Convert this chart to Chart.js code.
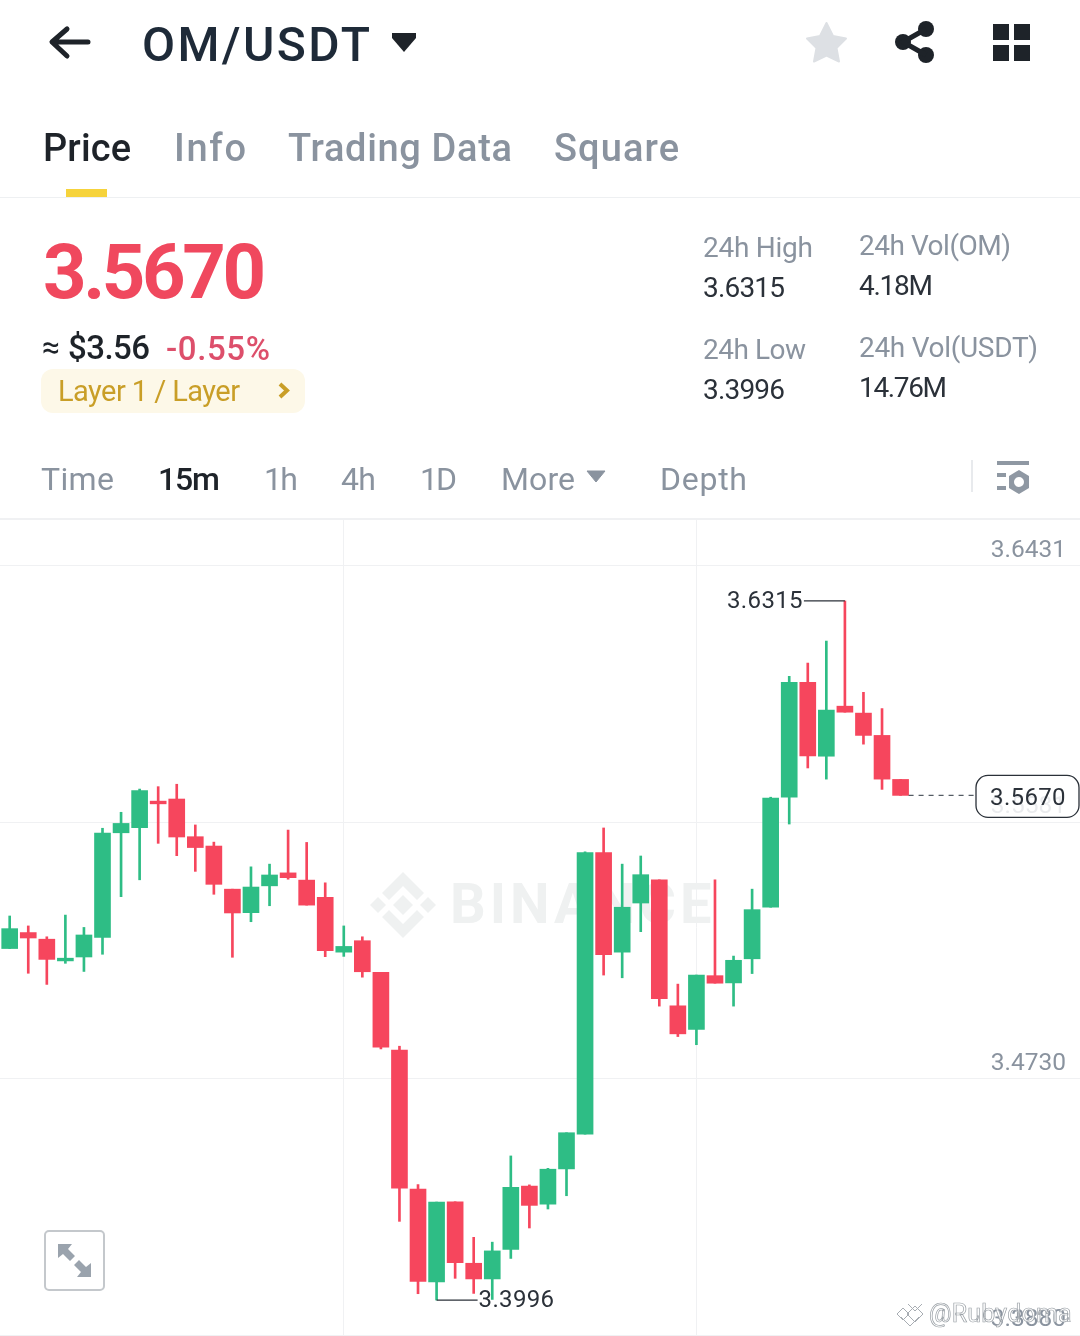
<!DOCTYPE html>
<html>
<head>
<meta charset="utf-8">
<style>
html,body{margin:0;padding:0;background:#fff;width:1080px;height:1336px;overflow:hidden;font-family:Roboto,sans-serif}
#chartBox{position:absolute;left:0;top:519px;width:1080px;height:817px}
.t{position:absolute;white-space:nowrap;line-height:1;transform:translateY(-50%)}
svg.i{position:absolute;left:0;top:0}
</style>
<script src="https://cdn.jsdelivr.net/npm/chart.js@4/dist/chart.umd.js"></script>
</head>
<body>
<div id="chartBox"><canvas id="c" width="1080" height="817"></canvas></div>

<svg class="i" width="1080" height="1336" viewBox="0 0 1080 1336">
  <path d="M88 42H54M67 29L52 42L67 56" fill="none" stroke="#1e2329" stroke-width="5" stroke-linecap="round" stroke-linejoin="round"/>
  <path d="M392 33H416V38L404 52L392 38Z" fill="#1e2329"/>
  <path d="M826.5 23L833 36L846 38.500L836.500 48L839 61.500L826.500 55.500L814 61.500L816.500 48L807 38.500L820 36Z" fill="#dde0e4" stroke="#dde0e4" stroke-width="2" stroke-linejoin="round"/>
  <g fill="#1e2329"><circle cx="926" cy="29" r="8"/><circle cx="903" cy="42" r="8"/><circle cx="926" cy="55" r="8"/></g>
  <path d="M926 29L903 42L926 55" fill="none" stroke="#1e2329" stroke-width="5"/>
  <g fill="#1e2329"><rect x="993" y="24" width="16" height="16"/><rect x="1014" y="24" width="16" height="16"/><rect x="993" y="45" width="16" height="16"/><rect x="1014" y="45" width="16" height="16"/></g>
  <rect x="0" y="197" width="1080" height="1" fill="#eef0f2"/>
  <rect x="66" y="189" width="41" height="8" fill="#f6d33c"/>
  <rect x="41" y="369" width="264" height="44" rx="12" fill="#fdf8e8"/>
  <path d="M280 384L287 390.500L280 397" fill="none" stroke="#c99e27" stroke-width="4"/>
  <path d="M587 471H605L596 482Z" fill="#8a939f" stroke="#8a939f" stroke-width="1" stroke-linejoin="round"/>
  <rect x="971" y="460" width="2" height="32" fill="#e8eaed"/>
  <g fill="#8f98a3">
    <rect x="997" y="461" width="32" height="4"/><rect x="997" y="473" width="9" height="4"/><rect x="997" y="486" width="9" height="4"/>
    <path fill-rule="evenodd" d="M1019 470L1029 476V488L1019 494L1009 488V476ZM1019 477A5 5 0 1 0 1019 487A5 5 0 1 0 1019 477Z"/>
  </g>
  <rect x="0" y="518" width="1080" height="2" fill="#f0f1f3"/>
  <rect x="45" y="1231" width="59" height="59" rx="4" fill="#fff" fill-opacity="0.9" stroke="#c4c8cc" stroke-width="2"/>
  <g fill="#9aa3ad">
    <path d="M58 1244H72L68 1249L75 1256L70 1261L63 1254L58 1258Z"/>
    <path d="M91 1277H77L81 1272L74 1265L79 1260L86 1267L91 1263Z"/>
  </g>
  <g fill="none" stroke="#a8adb3" stroke-width="1">
    <path d="M909 1304L916 1311L923 1304M898 1314L904 1308L910 1314L904 1320ZM908 1314L916 1306L924 1314L916 1322Z" transform="translate(-1,0)"/>
    <path d="M901 1317L910 1326L919 1317" />
  </g>
</svg>

<div id="ui"></div>

<script>
const candleIndex = Array.from({length:49},(_,i)=>i);
const opens = [3.5162,3.5215,3.5193,3.5121,3.5134,3.5199,3.5546,3.5563,3.5651,3.5658,3.5533,3.5502,3.5359,3.5281,3.5370,3.5413,3.5389,3.5332,3.5150,3.5188,3.5083,3.4825,3.4364,3.4056,3.4322,3.4118,3.4066,3.4164,3.4374,3.4314,3.4431,3.4546,3.5480,3.5150,3.5313,3.5390,3.4972,3.4894,3.5072,3.5048,3.5128,3.5299,3.5664,3.6045,3.5800,3.5966,3.5943,3.5869,3.5723];
const highs = [3.5270,3.5237,3.5201,3.5273,3.5232,3.5561,3.5614,3.5691,3.5699,3.5707,3.5572,3.5515,3.5359,3.5433,3.5442,3.5555,3.5514,3.5380,3.5237,3.5201,3.5083,3.4838,3.4379,3.4321,3.4322,3.4204,3.4188,3.4474,3.4378,3.4433,3.4551,3.5483,3.5562,3.5442,3.5469,3.5390,3.5044,3.5074,3.5390,3.5137,3.5359,3.5664,3.6065,3.6109,3.6182,3.6315,3.6012,3.5958,3.5723];
const lows = [3.5162,3.5080,3.5043,3.5113,3.5086,3.5143,3.5334,3.5390,3.5511,3.5470,3.5418,3.5342,3.5133,3.5251,3.5304,3.5392,3.5306,3.5135,3.5136,3.5067,3.4829,3.4257,3.4017,3.3996,3.4068,3.4018,3.3998,3.4134,3.4235,3.4298,3.4342,3.4546,3.5074,3.5065,3.5218,3.4971,3.4870,3.4843,3.5047,3.4971,3.5079,3.5299,3.5575,3.5761,3.5724,3.5946,3.5840,3.5690,3.5670];
const closes = [3.5228,3.5197,3.5126,3.5130,3.5207,3.5545,3.5577,3.5686,3.5642,3.5532,3.5497,3.5375,3.5280,3.5366,3.5406,3.5397,3.5306,3.5155,3.5169,3.5085,3.4835,3.4367,3.4058,3.4321,3.4120,3.4066,3.4159,3.4370,3.4310,3.4430,3.4551,3.5480,3.5142,3.5299,3.5407,3.4996,3.4879,3.5074,3.5047,3.5123,3.5291,3.5661,3.6045,3.5801,3.5953,3.5946,3.5869,3.5724,3.5670];
const priceTicks = [3.6431,3.5581,3.4730,3.3880];
const gridCandles = [18,37];
const dayHigh = 3.6315, dayLow = 3.3996, lastPrice = 3.5670;

const UP = '#2ebd85', DOWN = '#f6465d';
const candleColors = closes.map((c,i)=> c>=opens[i] ? UP : DOWN);

const INK='#1e2329', GREY='#8a939f';
const uiText = [
 ['OM/USDT',142,228,45,48,'#1e2a38',500],
 ['Price',43,88,148,38,INK,500],
 ['Info',174,72,148,38,GREY,500],
 ['Trading Data',288,224,148,38,GREY,500],
 ['Square',554,125,148,38,GREY,500],
 ['3.5670',43,223,272,76,'#f0485e',700],
 ['≈',42,18,347,32,INK,400],
 ['$3.56',68,82,347,33,INK,500],
 ['-0.55%',166,104,348,33,'#dd4f6b',500],
 ['Layer 1 / Layer',58,182,391,29,'#c99e27',400],
 ['24h High',703,110,248,28,GREY,400],
 ['3.6315',703,82,288,28,'#2b3139',400],
 ['24h Vol(OM)',859,152,246,28,GREY,400],
 ['4.18M',859,74,286,28,'#2b3139',400],
 ['24h Low',703,103,350,28,GREY,400],
 ['3.3996',703,82,390,28,'#2b3139',400],
 ['24h Vol(USDT)',859,179,348,28,GREY,400],
 ['14.76M',859,88,388,28,'#2b3139',400],
 ['Time',41,73,479,32,GREY,400],
 ['15m',158,62,479,32,INK,500],
 ['1h',264,34,479,32,GREY,400],
 ['4h',341,35,479,32,GREY,400],
 ['1D',420,37,479,32,GREY,400],
 ['More',501,74,479,32,GREY,400],
 ['Depth',660,87,479,32,GREY,400]
];
const ui=document.getElementById('ui');
const mc=document.createElement('canvas').getContext('2d');
uiText.forEach(([s,x,w,cy,size,col,wt])=>{
  const e=document.createElement('div');
  e.className='t';e.textContent=s;
  mc.font=wt+' '+size+'px Roboto';
  const ls=(w-mc.measureText(s).width)/Math.max(1,s.length-1);
  e.style.cssText='left:'+x+'px;top:'+cy+'px;font-size:'+size+'px;color:'+col+';font-weight:'+wt+';letter-spacing:'+ls.toFixed(2)+'px';
  ui.appendChild(e);
});
const wm=document.createElement('div');
wm.className='t';wm.textContent='@Rubydoma';
wm.style.cssText='left:929px;top:1313px;font-size:25px;color:rgba(255,255,255,.75);-webkit-text-stroke:0.7px #9aa0a6;letter-spacing:.2px';
ui.appendChild(wm);

const watermark={id:'watermark',beforeDatasetsDraw(ch){
  const g=ch.ctx;g.save();g.fillStyle='#eff1f1';
  const cx=403,cy=386;
  const diamond=(x,y,r)=>{g.beginPath();g.moveTo(x,y-r);g.lineTo(x+r,y);g.lineTo(x,y+r);g.lineTo(x,y+r);g.lineTo(x-r,y);g.closePath();g.fill();};
  diamond(cx,cy,10);diamond(cx-25,cy,8);diamond(cx+25,cy,8);
  [1,-1].forEach(s=>{g.beginPath();
    [[0,-33],[21,-12],[14,-5],[0,-19],[-14,-5],[-21,-12]].forEach(([a,b],i)=>{const X=cx+a,Y=cy+b*s;i?g.lineTo(X,Y):g.moveTo(X,Y);});
    g.closePath();g.fill();});
  g.font='700 56px Roboto';g.letterSpacing='4px';g.textBaseline='middle';g.textAlign='left';
  g.fillText('BINANCE',450,390);
  g.restore();
}};

const marks={id:'marks',afterDatasetsDraw(ch){
  const g=ch.ctx,xs=ch.scales.x,ys=ch.scales.y;
  g.save();
  g.font='24px Roboto';g.letterSpacing='0.35px';g.textBaseline='middle';g.fillStyle='#2b3139';g.strokeStyle='#2b3139';g.lineWidth=1.2;
  const hi=highs.indexOf(dayHigh),lo=lows.indexOf(dayLow);
  const hx=xs.getPixelForValue(hi),hy=ys.getPixelForValue(dayHigh);
  g.beginPath();g.moveTo(hx,hy);g.lineTo(hx-41,hy);g.stroke();
  g.textAlign='right';g.fillText(dayHigh.toFixed(4),hx-42,hy+1);
  const lx=xs.getPixelForValue(lo),ly=ys.getPixelForValue(dayLow);
  g.beginPath();g.moveTo(lx,ly);g.lineTo(lx+41,ly);g.stroke();
  g.textAlign='left';g.fillText(dayLow.toFixed(4),lx+42,ly+1);
  const px=xs.getPixelForValue(48)+8,py=ys.getPixelForValue(lastPrice);
  g.setLineDash([5,5]);g.strokeStyle='#555c64';g.beginPath();g.moveTo(px,py);g.lineTo(975,py);g.stroke();g.setLineDash([]);
  g.beginPath();g.roundRect(976,py-20,103,42,12);
  g.fillStyle='rgba(255,255,255,.82)';g.fill();g.strokeStyle='#2b3139';g.lineWidth=1.3;g.stroke();
  g.fillStyle='#2b3139';g.textAlign='center';g.fillText(lastPrice.toFixed(4),1028,py+4);
  g.restore();
}};

new Chart(document.getElementById('c'),{
  type:'bar',
  plugins:[watermark,marks],
  data:{datasets:[
    {label:'Wick',data:candleIndex.map(i=>({x:i,y:[lows[i],highs[i]]})),backgroundColor:candleColors,barThickness:2,grouped:false,order:2},
    {label:'Body',data:candleIndex.map(i=>({x:i,y:[opens[i],closes[i]]})),backgroundColor:candleColors,barThickness:16,grouped:false,order:1}
  ]},
  options:{
    responsive:false,animation:false,devicePixelRatio:1,
    layout:{padding:0,autoPadding:false},
    plugins:{legend:{display:false},tooltip:{enabled:false}},
    scales:{
      x:{type:'linear',offset:false,min:-0.5226,max:57.667,
        afterBuildTicks(s){s.ticks=gridCandles.map(v=>({value:v}));},
        ticks:{display:false},border:{display:false},
        grid:{offset:false,color:'#f0f1f3',lineWidth:1,drawTicks:false}},
      y:{type:'linear',position:'right',min:3.38767,max:3.65869,
        afterBuildTicks(s){s.ticks=priceTicks.map(v=>({value:v}));},
        afterFit(s){
          s.width=0;
          s.paddingTop=s.paddingBottom=s.paddingLeft=s.paddingRight=0;
          s._margins={left:0,right:0,top:0,bottom:0};
        },
        border:{display:false},
        grid:{color:'#f0f1f3',lineWidth:1,drawTicks:false},
        ticks:{mirror:true,autoSkip:false,padding:-14,color:'#8a939f',
          font:{family:'Roboto',size:24.5,lineHeight:1.22},
          callback:v=>[v.toFixed(4),'']}}
    }
  }
});
</script>
</body>
</html>
